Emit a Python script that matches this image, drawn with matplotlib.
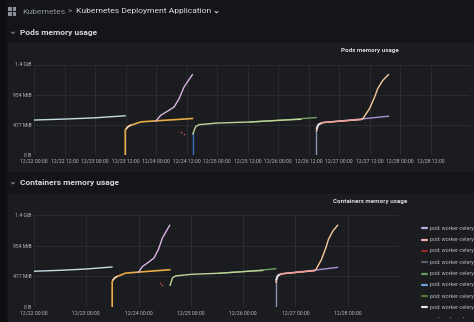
import matplotlib
matplotlib.use("Agg")
import matplotlib.pyplot as plt
from matplotlib.patches import Rectangle
from matplotlib.lines import Line2D

plt.rcParams['font.family'] = ['Roboto', 'DejaVu Sans']

# ---------------- data (hours since 12/22 00:00, MiB) ----------------
pod_a_t = [0, 12, 24, 35.8]
pod_a_v = [553, 568, 588, 620]

pod_b_t = [35.9, 35.9, 36.9, 38.2, 42.1, 48.0, 62.3]
pod_b_v = [0, 393, 445, 472, 524, 540, 577]

pod_b2_t = [36.3, 37.2, 38.0]
pod_b2_v = [420, 455, 470]

pod_c_t = [48.0, 49.9, 52.5, 55.1, 57.1, 59.0, 62.3]
pod_c_v = [540, 630, 692, 760, 892, 1075, 1270]

dots_t = [58.0, 59.0]
dots_v = [370, 335]

pod_d_t = [62.4, 62.4]
pod_d_v = [0, 340]

pod_e_t = [62.5, 63.6, 65.0, 72.0, 85.0, 100.0, 105.0]
pod_e_v = [335, 450, 480, 505, 522, 556, 565]

pod_f_t = [85.0, 100.0, 111.0]
pod_f_v = [522, 558, 592]

pod_g_t = [111.0, 111.0]
pod_g_v = [0, 450]

pod_h_t = [111.1, 111.6, 113.0, 117.0, 128.7, 129.4, 132.0, 134.0, 135.2, 137.2, 139.4]
pod_h_v = [380, 470, 508, 524, 560, 577, 735, 918, 1050, 1180, 1270]

pod_i_t = [111.2, 111.8, 113.5, 118.0, 129.4, 139.4]
pod_i_v = [430, 490, 515, 530, 572, 614]

pod_j_t = [111.3, 112.0, 114.0, 120.0, 129.0]
pod_j_v = [400, 480, 515, 535, 565]

pod_k_t = [111.2, 111.8, 112.5]
pod_k_v = [420, 470, 495]

y_ticks = [0, 477, 954, 1431]
y_labels = ["0 B", "477 MiB", "954 MiB", "1.4 GiB"]

x1_ticks = [0, 12, 24, 36, 48, 60, 72, 84, 96, 108, 120, 132, 144, 156]
x1_labels = ["12/22 00:00", "12/22 12:00", "12/23 00:00", "12/23 12:00",
             "12/24 00:00", "12/24 12:00", "12/25 00:00", "12/25 12:00",
             "12/26 00:00", "12/26 12:00", "12/27 00:00", "12/27 12:00",
             "12/28 00:00", "12/28 12:00"]
x2_ticks = [0, 24, 48, 72, 96, 120, 144]
x2_labels = ["12/22 00:00", "12/23 00:00", "12/24 00:00", "12/25 00:00",
             "12/26 00:00", "12/27 00:00", "12/28 00:00"]

legend_labels = ["pod: worker-celery-"] * 8
legend_colors = ['#b8b4d8', '#f2b0aa', '#8f2b22', '#5a5a70',
                 '#5f9c55', '#6f9fd8', '#4f7a3e', '#e6e6e6']

# ---------------- figure ----------------
W, H = 474, 322
PAGE = '#141518'
PANEL = '#1b1c20'
SIDE = '#0d0e10'
TXT = '#d8d9da'
GRAY = '#8e9199'
TICK = '#b4b7bd'
GRID = '#2d2f35'

fig = plt.figure(figsize=(W / 100, H / 100), dpi=100, facecolor=PAGE)


def fx(x):
    return x / W


def fy(y):
    return 1 - y / H


def rect(x0, y0, x1, y1, color):
    fig.patches.append(Rectangle((fx(x0), fy(y1)), fx(x1) - fx(x0), fy(y0) - fy(y1),
                                 transform=fig.transFigure, facecolor=color,
                                 edgecolor='none', zorder=-5))


def fline(xs, ys, color, lw=1.0):
    fig.add_artist(Line2D([fx(x) for x in xs], [fy(y) for y in ys],
                          transform=fig.transFigure, color=color, lw=lw,
                          solid_capstyle='round'))


rect(0, 0, 7, H, SIDE)
rect(8, 43, W, 172, PANEL)
rect(8, 194, W, H, PANEL)

# header grid icon
for gx, gy in [(8, 7.5), (12.5, 7.5), (8, 12), (12.5, 12)]:
    rect(gx, gy, gx + 3.6, gy + 3.6, GRAY)

fig.text(fx(22), fy(11.5), "Kubernetes", color=GRAY, fontsize=6.1,
         ha='left', va='center')
fig.text(fx(68), fy(11.5), ">", color=GRAY, fontsize=6.1, ha='left', va='center')
fig.text(fx(76.5), fy(11.5), "Kubernetes Deployment Application", color=TXT,
         fontsize=6.1, ha='left', va='center')
fline([215, 216.5, 218], [11.5, 12.8, 11.5], TXT, lw=0.7)

# row headers
fline([11.5, 13, 14.5], [32, 33.5, 32], GRAY, lw=0.7)
fig.text(fx(20.5), fy(32.5), "Pods memory usage", color=TXT, fontsize=6.0,
         fontweight='bold', ha='left', va='center')
fline([11.5, 13, 14.5], [182.5, 184, 182.5], GRAY, lw=0.7)
fig.text(fx(20.5), fy(183), "Containers memory usage", color=TXT, fontsize=6.0,
         fontweight='bold', ha='left', va='center')

# panel titles
fig.text(fx(370), fy(50.5), "Pods memory usage", color=TXT, fontsize=4.5,
         fontweight='bold', ha='center', va='center')
fig.text(fx(370), fy(202), "Containers memory usage", color=TXT, fontsize=4.5,
         fontweight='bold', ha='center', va='center')

# ---------------- axes ----------------
ax1 = fig.add_axes([fx(34), fy(155), fx(470) - fx(34), fy(64.5) - fy(155)])
ax2 = fig.add_axes([fx(34), fy(306.7), fx(399) - fx(34), fy(215) - fy(306.7)])


def style(ax, xt, xl, xmax):
    ax.set_facecolor('none')
    ax.set_xlim(0, xmax)
    ax.set_ylim(0, 1431)
    for s in ax.spines.values():
        s.set_visible(False)
    ax.set_yticks(y_ticks)
    ax.set_yticklabels(y_labels)
    ax.set_xticks(xt)
    ax.set_xticklabels(xl)
    ax.tick_params(length=0, colors=TICK, labelsize=3.7)
    ax.tick_params(axis='y', pad=1.8)
    ax.tick_params(axis='x', pad=2.6)
    ax.grid(True, color=GRID, lw=0.6)
    ax.set_axisbelow(True)


def draw(ax, pods_panel):
    lw = 1.0
    ax.plot(pod_a_t, pod_a_v, color='#c4dde3', lw=lw)
    ax.plot(pod_b_t, pod_b_v, color='#e8ab45', lw=lw + 0.2)
    ax.plot(pod_b2_t, pod_b2_v, color='#f3d7c6', lw=lw)
    ax.plot(pod_c_t, pod_c_v, color='#d9b5e2', lw=lw)
    ax.plot(dots_t, dots_v, 'o', color='#c2584a', ms=1.2, mew=0)
    if pods_panel:
        ax.plot(pod_d_t, pod_d_v, color='#3d6fc4', lw=lw)
    ax.plot(pod_f_t, pod_f_v, color='#6fa35f', lw=lw)
    ax.plot(pod_e_t, pod_e_v, color='#bfd39a', lw=lw)
    ax.plot(pod_g_t, pod_g_v, color='#8a8fb8', lw=lw)
    ax.plot(pod_i_t, pod_i_v, color='#a98fd6', lw=lw)
    ax.plot(pod_h_t, pod_h_v, color='#f7c89b', lw=lw)
    ax.plot(pod_j_t, pod_j_v, color='#ef9f94', lw=lw)
    ax.plot(pod_k_t, pod_k_v, color='#cde8f0', lw=lw)


style(ax1, x1_ticks, x1_labels, 171.5)
style(ax2, x2_ticks, x2_labels, 167.6)
draw(ax1, True)
draw(ax2, False)

# legend
for i, (lab, col) in enumerate(zip(legend_labels, legend_colors)):
    yy = 228.3 + i * 11.3
    fline([422, 426.5], [yy, yy], col, lw=1.6)
    fig.text(fx(429.5), fy(yy), lab, color=TICK, fontsize=3.9,
             ha='left', va='center')

for dx in [438, 450, 463]:
    fig.add_artist(Line2D([fx(dx)], [fy(316.7)], transform=fig.transFigure,
                          marker='o', ms=0.9, mew=0, color='#6c6f76', lw=0))

fig.savefig("out.png", dpi=100, facecolor=PAGE)
